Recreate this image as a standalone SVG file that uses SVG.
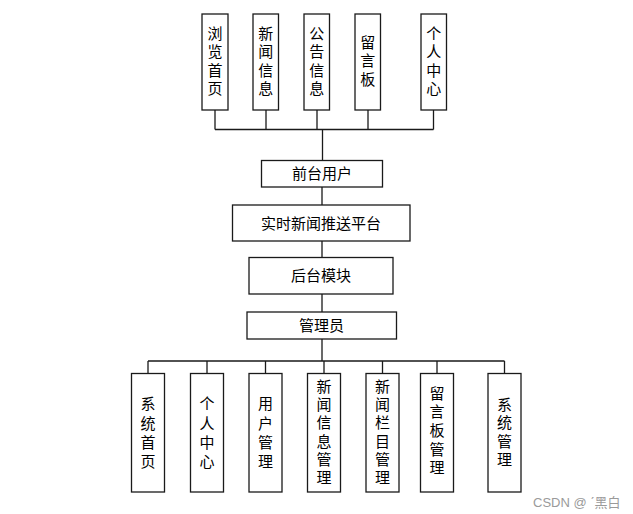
<svg xmlns="http://www.w3.org/2000/svg" width="633" height="514" viewBox="0 0 633 514">
<style>
.box{fill:#fff;stroke:#1a1a1a;stroke-width:1.3}
.t{font-family:"Noto Sans CJK SC","Liberation Sans",sans-serif;font-size:15px;fill:#000;text-anchor:middle}
.c{font-family:"Liberation Sans","Noto Sans CJK SC",sans-serif;font-size:15px;fill:#000;text-anchor:middle}
.ln{stroke:#1a1a1a;stroke-width:1.3;fill:none}
.wm{font-family:"Liberation Sans","Noto Sans CJK SC",sans-serif;font-size:13px;fill:#9a9a9a}
</style>
<rect width="633" height="514" fill="#fff"/>
<g id="connectors">
<path class="ln" d="M215,110V129.5M266,110V129.5M317,110V129.5M368,110V129.5M433.5,110V129.5M215,129.5H433.5M322.5,129.5V160"/>
<path class="ln" d="M322,187V205M322,241V257M322,294V312M322,339V361"/>
<path class="ln" d="M148,361H504.5M148,361V373M207,361V373M265.5,361V373M324,361V373M382.5,361V373M437,361V373M504.5,361V373"/>
</g>
<g id="n_top1" class="c"><rect class="box" x="202" y="14" width="26" height="96"/><text x="215" y="38.5">浏</text><text x="215" y="57">览</text><text x="215" y="75.5">首</text><text x="215" y="94">页</text></g>
<g id="n_top2" class="c"><rect class="box" x="253" y="14" width="25.5" height="96"/><text x="265.7" y="38.5">新</text><text x="265.7" y="57">闻</text><text x="265.7" y="75.5">信</text><text x="265.7" y="94">息</text></g>
<g id="n_top3" class="c"><rect class="box" x="304" y="14" width="25.5" height="96"/><text x="316.7" y="38.5">公</text><text x="316.7" y="57">告</text><text x="316.7" y="75.5">信</text><text x="316.7" y="94">息</text></g>
<g id="n_top4" class="c"><rect class="box" x="355" y="14" width="25.5" height="96"/><text x="367.7" y="47.5">留</text><text x="367.7" y="66">言</text><text x="367.7" y="84.5">板</text></g>
<g id="n_top5" class="c"><rect class="box" x="421" y="14" width="25.5" height="96"/><text x="433.7" y="38.5">个</text><text x="433.7" y="57">人</text><text x="433.7" y="75.5">中</text><text x="433.7" y="94">心</text></g>
<g id="n_front"><rect class="box" x="261.5" y="160.5" width="121" height="26.5"/><text class="t" x="322" y="179">前台用户</text></g>
<g id="n_platform"><rect class="box" x="232.5" y="205" width="177.5" height="36"/><text class="t" x="321" y="228.5">实时新闻推送平台</text></g>
<g id="n_back"><rect class="box" x="249" y="257.5" width="144" height="36.5"/><text class="t" x="321" y="281">后台模块</text></g>
<g id="n_admin"><rect class="box" x="247" y="312" width="149.5" height="27"/><text class="t" x="321.5" y="331">管理员</text></g>
<g id="n_b1" class="c"><rect class="box" x="131.5" y="373.5" width="33" height="118.5"/><text x="148" y="409">系</text><text x="148" y="428.5">统</text><text x="148" y="448">首</text><text x="148" y="467">页</text></g>
<g id="n_b2" class="c"><rect class="box" x="190.5" y="373.5" width="33" height="118.5"/><text x="207" y="409">个</text><text x="207" y="428.5">人</text><text x="207" y="448">中</text><text x="207" y="467">心</text></g>
<g id="n_b3" class="c"><rect class="box" x="249" y="373.5" width="33" height="118.5"/><text x="265.5" y="409">用</text><text x="265.5" y="428.5">户</text><text x="265.5" y="448">管</text><text x="265.5" y="467">理</text></g>
<g id="n_b4" class="c"><rect class="box" x="307.5" y="373.5" width="33" height="118.5"/><text x="324" y="391.7">新</text><text x="324" y="410">闻</text><text x="324" y="428.3">信</text><text x="324" y="446.6">息</text><text x="324" y="464.9">管</text><text x="324" y="483.2">理</text></g>
<g id="n_b5" class="c"><rect class="box" x="366" y="373.5" width="33" height="118.5"/><text x="382.5" y="391.7">新</text><text x="382.5" y="410">闻</text><text x="382.5" y="428.3">栏</text><text x="382.5" y="446.6">目</text><text x="382.5" y="464.9">管</text><text x="382.5" y="483.2">理</text></g>
<g id="n_b6" class="c"><rect class="box" x="420.5" y="373.5" width="33" height="118.5"/><text x="437" y="398.5">留</text><text x="437" y="417.2">言</text><text x="437" y="435.9">板</text><text x="437" y="454.6">管</text><text x="437" y="473.3">理</text></g>
<g id="n_b7" class="c"><rect class="box" x="488" y="373.5" width="33" height="118.5"/><text x="504.5" y="410">系</text><text x="504.5" y="428.3">统</text><text x="504.5" y="446.6">管</text><text x="504.5" y="464.9">理</text></g>
<text class="wm" x="533" y="507">CSDN @ ˊ黑白</text>
</svg>
